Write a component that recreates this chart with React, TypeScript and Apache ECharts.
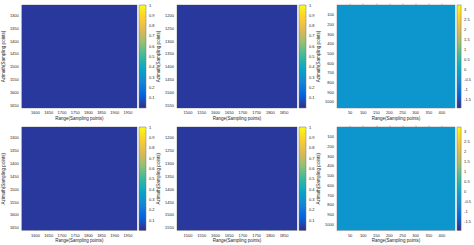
import React, { useEffect, useRef } from "react";
import * as echarts from "echarts";

// ---------- data ----------
const parula = ["#352a87", "#0363e1", "#1485d4", "#06a7c6", "#38b99e", "#92bf73", "#d9ba56", "#fcce2e", "#f9fb0e"];

// Panel A (left column): range / azimuth extents
const rangeEdgesA = [1548, 1984];
const azimuthEdgesA = [1260, 1660];
// Panel B (middle column)
const rangeEdgesB = [1460, 1897];
const azimuthEdgesB = [1160, 1560];
// Panel C (right column)
const rangeEdgesC = [0, 450];
const azimuthEdgesC = [0, 1065];

const valuesTopLeft = [[0.03]];
const valuesTopMid = [[0.03]];
const valuesTopRight = [[-0.35]];
const valuesBottomLeft = [[0.03]];
const valuesBottomMid = [[0.03]];
const valuesBottomRight = [[-0.35]];

const xTicksA = [1600, 1650, 1700, 1750, 1800, 1850, 1900, 1950];
const yTicksA = [1300, 1350, 1400, 1450, 1500, 1550, 1600, 1650];
const xTicksB = [1500, 1550, 1600, 1650, 1700, 1750, 1800, 1850];
const yTicksB = [1200, 1250, 1300, 1350, 1400, 1450, 1500, 1550];
const xTicksC = [50, 100, 150, 200, 250, 300, 350, 400];
const yTicksC = [100, 200, 300, 400, 500, 600, 700, 800, 900, 1000];

const cbRange01 = [0, 1];
const cbTicks01 = [0.1, 0.2, 0.3, 0.4, 0.5, 0.6, 0.7, 0.8, 0.9, 1];
const cbRangeC = [-1.95, 3.2];
const cbTicksC = [-1.5, -1, -0.5, 0, 0.5, 1, 1.5, 2, 2.5, 3];

const xName = "Range(Sampling points)";
const yName = "Azimuth(Sampling points)";

// ---------- layout ----------
const cols = [
  { left: 19, width: 118, cbLeft: 139, cbWidth: 7 },
  { left: 177, width: 120, cbLeft: 299, cbWidth: 7 },
  { left: 337, width: 118, cbLeft: 457, cbWidth: 7 },
];
const rows = [{ top: 5, height: 103 }, { top: 127, height: 103.5 }];

const panels = [
  { row: 0, col: 0, xe: rangeEdgesA, ye: azimuthEdgesA, v: valuesTopLeft, xt: xTicksA, yt: yTicksA, cr: cbRange01, ct: cbTicks01 },
  { row: 0, col: 1, xe: rangeEdgesB, ye: azimuthEdgesB, v: valuesTopMid, xt: xTicksB, yt: yTicksB, cr: cbRange01, ct: cbTicks01 },
  { row: 0, col: 2, xe: rangeEdgesC, ye: azimuthEdgesC, v: valuesTopRight, xt: xTicksC, yt: yTicksC, cr: cbRangeC, ct: cbTicksC },
  { row: 1, col: 0, xe: rangeEdgesA, ye: azimuthEdgesA, v: valuesBottomLeft, xt: xTicksA, yt: yTicksA, cr: cbRange01, ct: cbTicks01 },
  { row: 1, col: 1, xe: rangeEdgesB, ye: azimuthEdgesB, v: valuesBottomMid, xt: xTicksB, yt: yTicksB, cr: cbRange01, ct: cbTicks01 },
  { row: 1, col: 2, xe: rangeEdgesC, ye: azimuthEdgesC, v: valuesBottomRight, xt: xTicksC, yt: yTicksC, cr: cbRangeC, ct: cbTicksC },
];

const FONT = "Liberation Sans";
const TXT = "#262626";
const fmt = (v: number) => String(v);

function buildOption() {
  const grid: any[] = [];
  const xAxis: any[] = [];
  const yAxis: any[] = [];
  const series: any[] = [];
  const visualMap: any[] = [];

  panels.forEach((p, i) => {
    const c = cols[p.col];
    const r = rows[p.row];
    const stops = parula.map((color, k) => ({ offset: k / (parula.length - 1), color }));
    grid.push({
      left: c.left, top: r.top, width: c.width, height: r.height,
      show: true, borderColor: "#777", borderWidth: 0.5, backgroundColor: "transparent",
    });
    grid.push({
      left: c.cbLeft, top: r.top, width: c.cbWidth, height: r.height,
      show: true, borderColor: "#777", borderWidth: 0.5,
      backgroundColor: new echarts.graphic.LinearGradient(0, 1, 0, 0, stops),
    });
    const gi = i * 2;
    xAxis.push({
      type: "value", gridIndex: gi, min: p.xe[0], max: p.xe[p.xe.length - 1],
      axisLine: { show: false }, splitLine: { show: false },
      axisTick: { show: true, inside: true, length: 1.5, customValues: p.xt, lineStyle: { color: "#666", width: 0.4 } },
      axisLabel: { customValues: p.xt, formatter: fmt, fontSize: 4, color: TXT, margin: 2.5, fontFamily: FONT },
      name: xName, nameLocation: "middle", nameGap: 7.5,
      nameTextStyle: { fontSize: 4.5, color: TXT, fontFamily: FONT },
    });
    xAxis.push({ type: "value", gridIndex: gi + 1, min: 0, max: 1, show: false });
    yAxis.push({
      type: "value", gridIndex: gi, inverse: true, min: p.ye[0], max: p.ye[p.ye.length - 1],
      axisLine: { show: false }, splitLine: { show: false },
      axisTick: { show: true, inside: true, length: 1.5, customValues: p.yt, lineStyle: { color: "#666", width: 0.4 } },
      axisLabel: { customValues: p.yt, formatter: fmt, fontSize: 4, color: TXT, margin: 3, fontFamily: FONT },
      name: yName, nameLocation: "middle", nameGap: 12,
      nameTextStyle: { fontSize: 4.5, color: TXT, fontFamily: FONT },
    });
    yAxis.push({
      type: "value", gridIndex: gi + 1, position: "right", min: p.cr[0], max: p.cr[1],
      axisLine: { show: false }, splitLine: { show: false },
      axisTick: { show: false },
      axisLabel: { customValues: p.ct, formatter: fmt, fontSize: 4, color: TXT, margin: 3, fontFamily: FONT },
    });

    const cells: number[][] = [];
    for (let a = 0; a < p.ye.length - 1; a++) {
      for (let b = 0; b < p.xe.length - 1; b++) {
        cells.push([p.xe[b], p.xe[b + 1], p.ye[a], p.ye[a + 1], p.v[a][b]]);
      }
    }
    series.push({
      type: "custom",
      coordinateSystem: "cartesian2d",
      xAxisIndex: gi, yAxisIndex: gi,
      data: cells,
      encode: { x: [0, 1], y: [2, 3] },
      clip: true,
      renderItem: (params: any, api: any) => {
        const p0 = api.coord([api.value(0), api.value(2)]);
        const p1 = api.coord([api.value(1), api.value(3)]);
        const color = api.visual("color");
        return {
          type: "rect",
          shape: {
            x: Math.min(p0[0], p1[0]),
            y: Math.min(p0[1], p1[1]),
            width: Math.abs(p1[0] - p0[0]),
            height: Math.abs(p1[1] - p0[1]),
          },
          style: { fill: color },
        };
      },
    });
    visualMap.push({
      type: "continuous", show: false, seriesIndex: i, dimension: 4,
      min: p.cr[0], max: p.cr[1], inRange: { color: parula },
    });
  });

  return { animation: false, backgroundColor: "#fff", grid, xAxis, yAxis, series, visualMap };
}

export default function App() {
  const ref = useRef<HTMLDivElement>(null);
  useEffect(() => {
    const chart = echarts.init(ref.current!, null, { renderer: "svg" });
    chart.setOption(buildOption());
    return () => chart.dispose();
  }, []);
  return (
    <div
      ref={ref}
      style={{ position: "fixed", left: 0, top: 0, width: 474, height: 245, background: "#fff" }}
    />
  );
}
